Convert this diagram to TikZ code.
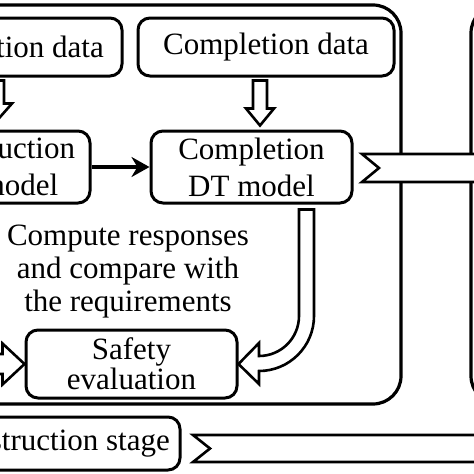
\documentclass[tikz,border=0pt]{standalone}
\usepackage{fontspec}
\setmainfont{Liberation Serif}
\usetikzlibrary{arrows.meta,calc}

\tikzset{
  box/.style={draw, line width=3pt, rounded corners=12pt, align=center, inner sep=0pt},
  hollow/.style={draw, fill=white, line width=2.6pt, line join=miter},
  frame/.style={draw, line width=3.2pt, rounded corners=28pt},
}

\begin{document}
\begin{tikzpicture}[x=1pt, y=-1pt, font=\fontsize{31}{33}\selectfont]
    \useasboundingbox (0,0) rectangle (474,474);
    \clip (0,0) rectangle (474,474);

    % stage frames
    \draw[frame] (-300,5) rectangle (401,404);
    \draw[frame] (471,5) rectangle (800,404);

    % data and DT models
    \node[box, minimum width=256pt, minimum height=58pt] (kdata) at (-6,47) {Construction data};
    \node[box, minimum width=256pt, minimum height=58pt] (cdata) at (266,47) {Completion data};
    \node[box, minimum width=190pt, minimum height=72pt] (kmodel) at (-5,167) {Construction\\[4pt]DT model};
    \node[box, minimum width=201pt, minimum height=72pt] (cmodel) at (251.5,167) {Completion\\[4pt]DT model};
    \node[align=center] (compute) at (128,272) {Compute responses\\and compare with\\the requirements};
    \node[box, minimum width=211pt, minimum height=68pt] (safety) at (131.5,364) {Safety\\[-3pt]evaluation};
    \node[box, minimum width=252pt, minimum height=53pt] (kstage) at (54,443.5) {Construction stage};

    % data -> model
    \draw[hollow] ($(kdata.south)+(-4,3)$) -- ++(14,0) -- ++(0,23) -- ++(8,0) -- ++(-15,17) -- ++(-15,-17) -- ++(8,0) -- cycle;
    \draw[hollow] ($(cdata.south)+(-13,3)$) -- ++(14,0) -- ++(0,28) -- ++(7,0) -- ++(-14,17) -- ++(-14,-17) -- ++(7,0) -- cycle;
    \draw[line width=4pt, -{Stealth[length=18pt,width=20pt]}] (kmodel) -- (cmodel);

    % responses -> safety
    \draw[hollow] (safety.west) -- ++(-22,-20.5) -- ++(0,10.5) -- ++(-30,0) -- ++(0,20) -- ++(30,0) -- ++(0,10.5) -- cycle;
    \draw[hollow] ($(cmodel.south)+(47.5,5)$) -- ++(15,0) -- (314,316) arc[start angle=0, end angle=90, radius=55]
        -- (259,384) -- (safety.east) -- (259,343) -- (259,356) arc[start angle=90, end angle=0, radius=40] -- cycle;

    % to the next stage
    \draw[hollow] ($(cmodel.east)+(8.5,-13)$) -- ++(200,0) -- ++(0,28) -- ++(-200,0) -- ++(17,-14) -- cycle;
    \draw[hollow] ($(kstage.east)+(11.5,-8.5)$) -- ++(300,0) -- ++(0,27) -- ++(-300,0) -- ++(17,-13.5) -- cycle;
\end{tikzpicture}
\end{document}
